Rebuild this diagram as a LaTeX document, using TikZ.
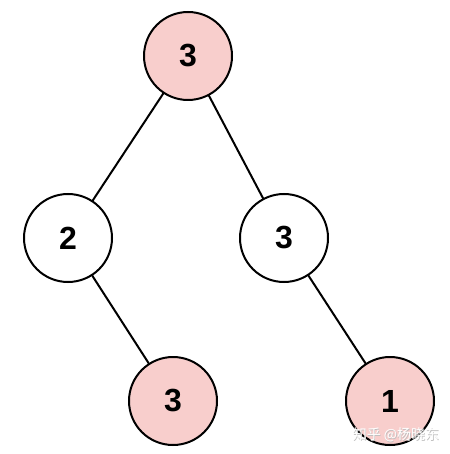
\documentclass[tikz,border=0pt]{standalone}
\usepackage{fontspec}
\setmainfont{Liberation Sans}
\newfontfamily\cjk{Noto Sans CJK SC}
\usepackage{xcolor}
\definecolor{nodepink}{HTML}{F8CECC}

\begin{document}
\begin{tikzpicture}[x=1pt,y=-1pt,line cap=round,
  tnode/.style={circle,draw,line width=2pt,minimum size=88pt,inner sep=0pt,font=\fontsize{32}{32}\selectfont\bfseries},
  hnode/.style={tnode,fill=nodepink},
  edge/.style={line width=2pt}]
\useasboundingbox (0,0) rectangle (449,454);
\node[hnode] (root) at (188,56) {3};
\node[tnode] (left) at (68,238) {2};
\node[tnode] (right) at (284,238) {3};
\node[hnode] (leftchild) at (173,401) {3};
\node[hnode] (rightchild) at (390,401) {1};
\draw[edge] (root) -- (left);
\draw[edge] (root) -- (right);
\draw[edge] (left) -- (leftchild);
\draw[edge] (right) -- (rightchild);
% watermark
\node[text=gray!50,font=\cjk\fontsize{14}{14}\selectfont] at (396.6,435.6) {知乎 @杨晓东};
\node[text=white,font=\cjk\fontsize{14}{14}\selectfont] (mark) at (396,435) {知乎 @杨晓东};
\end{tikzpicture}
\end{document}
